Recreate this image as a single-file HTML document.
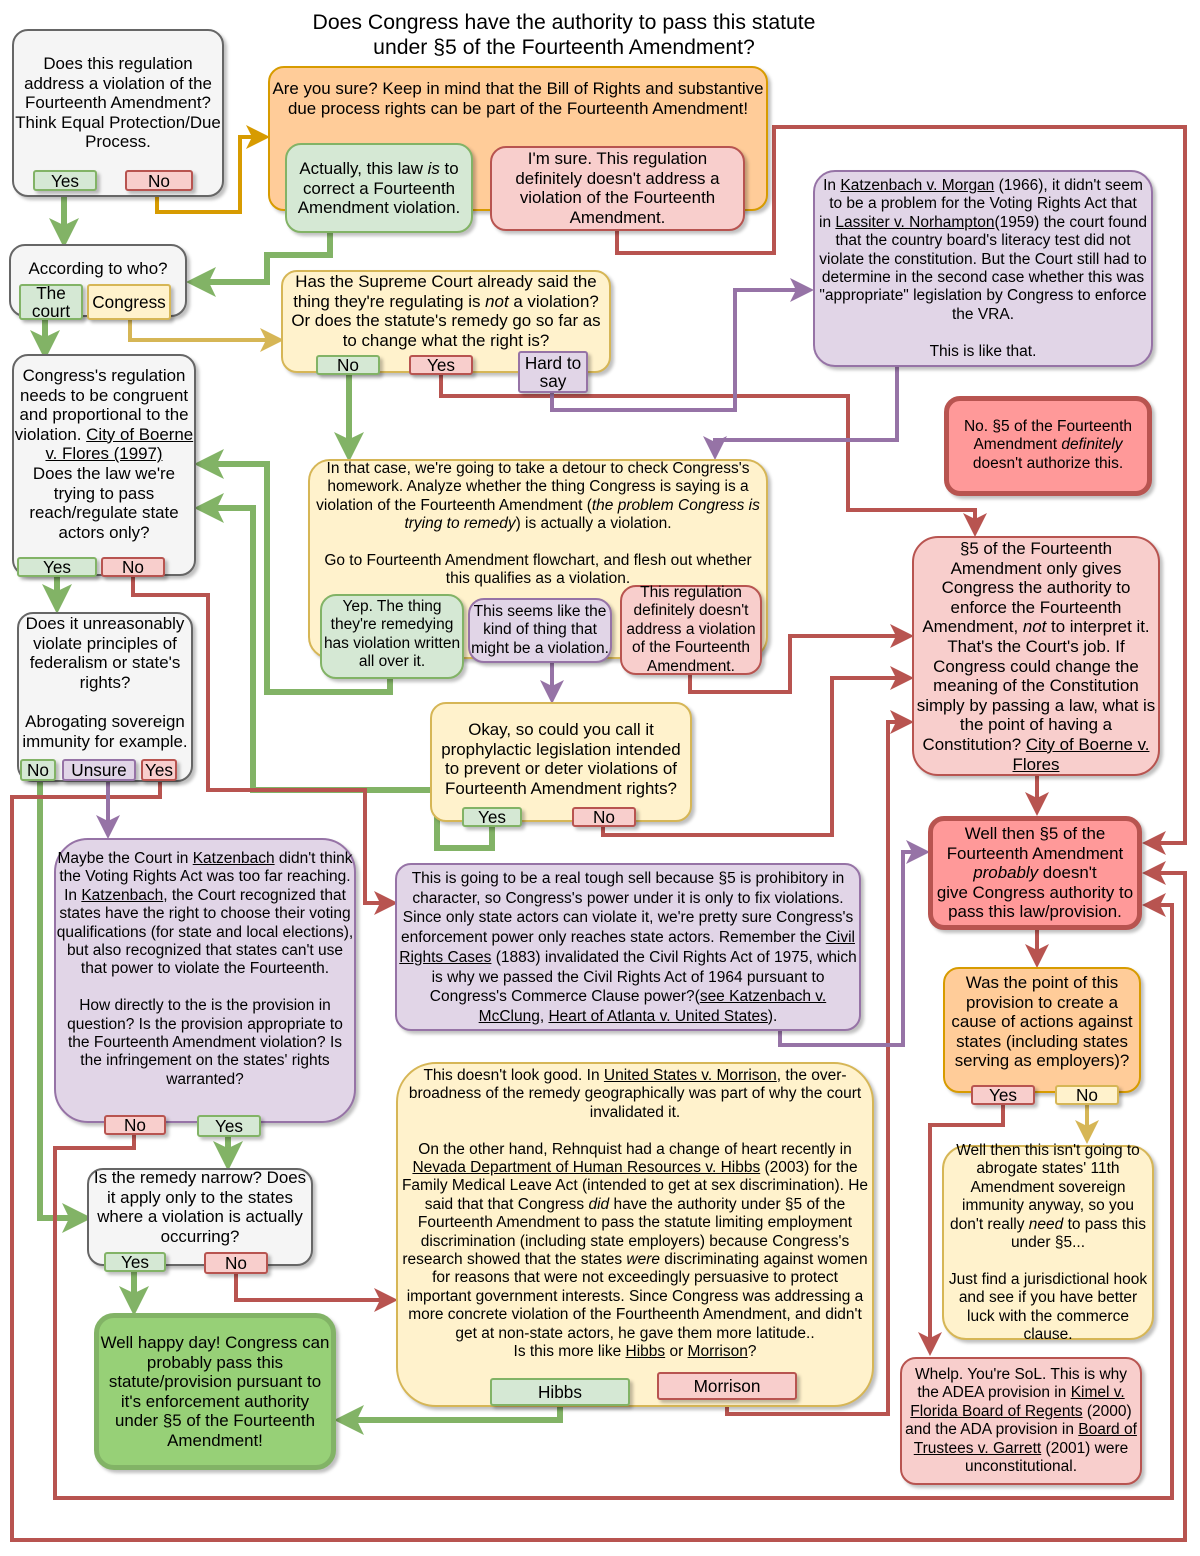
<!DOCTYPE html>
<html><head><meta charset="utf-8">
<style>
body{margin:0;background:#fff;}
#c{position:relative;width:1200px;height:1556px;overflow:hidden;font-family:"Liberation Sans",Arial,sans-serif;color:#000;}
.b{position:absolute;box-sizing:border-box;border:2px solid;border-radius:16px;box-shadow:3px 3px 3px rgba(0,0,0,0.25);}
.t{position:absolute;text-align:center;white-space:nowrap;font-size:16.9px;line-height:19.6px;}
.s{font-size:15.5px;line-height:18.4px;}
.gr{background:#f5f5f5;border-color:#666;}
.or{background:#ffcc99;border-color:#d79b00;}
.gn{background:#d5e8d4;border-color:#82b366;}
.rd{background:#f8cecc;border-color:#b85450;}
.pu{background:#e1d5e7;border-color:#9673a6;}
.ye{background:#fff2cc;border-color:#d6b656;}
.sr{background:#ff9999;border-color:#b85450;border-width:5px;}
.sg{background:#97d077;border-color:#82b366;border-width:5px;}
.btn{border-radius:3px;border-width:2px;display:flex;align-items:center;justify-content:center;font-size:17.2px;line-height:18px;text-align:center;}
u{text-decoration:underline;}
svg{position:absolute;left:0;top:0;}
</style></head><body><div id="c">
<div class="t" style="left:214px;width:700px;top:10px;font-size:21.2px;line-height:25px;">Does Congress have the authority to pass this statute<br>under §5 of the Fourteenth Amendment?</div>

<svg width="1200" height="1556">
<defs>
<marker id="ag" markerWidth="5" markerHeight="5" refX="4" refY="2.5" orient="auto" markerUnits="strokeWidth"><path d="M0,0 L5,2.5 L0,5 L1.2,2.5z" fill="#82b366"/></marker>
<marker id="ar" markerWidth="6" markerHeight="6" refX="5" refY="3" orient="auto" markerUnits="strokeWidth"><path d="M0,0 L6,3 L0,6 L1.5,3z" fill="#b85450"/></marker>
<marker id="ap" markerWidth="6" markerHeight="6" refX="5" refY="3" orient="auto" markerUnits="strokeWidth"><path d="M0,0 L6,3 L0,6 L1.5,3z" fill="#9673a6"/></marker>
<marker id="ay" markerWidth="6" markerHeight="6" refX="5" refY="3" orient="auto" markerUnits="strokeWidth"><path d="M0,0 L6,3 L0,6 L1.5,3z" fill="#d6b656"/></marker>
<marker id="ao" markerWidth="6" markerHeight="6" refX="5" refY="3" orient="auto" markerUnits="strokeWidth"><path d="M0,0 L6,3 L0,6 L1.5,3z" fill="#d79b00"/></marker>
</defs>
<g fill="none" stroke-linejoin="miter">
<g stroke="#82b366" stroke-width="6" marker-end="url(#ag)">
<path d="M64,190 V242"/>
<path d="M330,233 V255 H267 V282 H192"/>
<path d="M45,320 V354"/>
<path d="M349,375 V456"/>
<path d="M57,577 V608"/>
<path d="M390,679 V692 H267 V464 H200"/>
<path d="M492,827 V848 H437 V790 H253 V508 H200"/>
<path d="M40,781 V1218 H86"/>
<path d="M228,1137 V1165"/>
<path d="M134,1272 V1310"/>
<path d="M560,1406 V1420 H340"/>
</g>
<g stroke="#b85450" stroke-width="4" marker-end="url(#ar)">
<path d="M617,231 V253 H774 V127 H1185 V843 H1146"/>
<path d="M441,375 V396 H848 V510 H975 V533"/>
<path d="M690,675 V692 H790 V636 H910"/>
<path d="M603,827 V835 H832 V678 H910"/>
<path d="M727,1400 V1414 H888 V722 H910"/>
<path d="M133,577 V595 H208 V790 H365 V903 H394"/>
<path d="M160,781 V797 H12 V1540 H1185 V873 H1146"/>
<path d="M134,1135 V1148 H55 V1498 H1172 V905 H1146"/>
<path d="M236,1274 V1300 H394"/>
<path d="M1037,776 V812"/>
<path d="M1037,930 V964"/>
<path d="M1003,1105 V1125 H930 V1352"/>
</g>
<g stroke="#9673a6" stroke-width="4" marker-end="url(#ap)">
<path d="M552,393 V410 H735 V290 H810"/>
<path d="M897,367 V440 H715 V456"/>
<path d="M552,663 V700"/>
<path d="M108,781 V835"/>
<path d="M780,1031 V1045 H903 V852 H926"/>
</g>
<g stroke="#d6b656" stroke-width="4" marker-end="url(#ay)">
<path d="M130,320 V340 H280"/>
<path d="M1087,1105 V1140"/>
</g>
<path d="M157,190 V212 H240 V137 H266" stroke="#d79b00" stroke-width="4" marker-end="url(#ao)"/>
</g>
</svg>

<div class="b gr" style="left:12px;top:29px;width:212px;height:168px;"></div>
<div class="t" style="left:12px;width:212px;top:54px;">Does this regulation<br>address a violation of the<br>Fourteenth Amendment?<br>Think Equal Protection/Due<br>Process.</div>
<div class="b gn btn" style="left:33px;top:170px;width:64px;height:21px;">Yes</div>
<div class="b rd btn" style="left:125px;top:170px;width:68px;height:21px;">No</div>

<div class="b or" style="left:268px;top:66px;width:500px;height:145px;"></div>
<div class="t" style="left:268px;width:500px;top:79px;">Are you sure? Keep in mind that the Bill of Rights and substantive<br>due process rights can be part of the Fourteenth Amendment!</div>
<div class="b gn" style="left:285px;top:143px;width:188px;height:90px;"></div>
<div class="t" style="left:285px;width:188px;top:159px;">Actually, this law <i>is</i> to<br>correct a Fourteenth<br>Amendment violation.</div>
<div class="b rd" style="left:490px;top:146px;width:255px;height:85px;"></div>
<div class="t" style="left:490px;width:255px;top:149px;">I'm sure. This regulation<br>definitely doesn't address a<br>violation of the Fourteenth<br>Amendment.</div>

<div class="b gr" style="left:9px;top:244px;width:178px;height:73px;"></div>
<div class="t" style="left:9px;width:178px;top:259px;">According to who?</div>
<div class="b gn btn" style="left:19px;top:284px;width:64px;height:36px;">The<br>court</div>
<div class="b ye btn" style="left:87px;top:284px;width:84px;height:36px;">Congress</div>

<div class="b ye" style="left:281px;top:270px;width:330px;height:103px;"></div>
<div class="t" style="left:281px;width:330px;top:272px;">Has the Supreme Court already said the<br>thing they're regulating is <i>not</i> a violation?<br>Or does the statute's remedy go so far as<br>to change what the right is?</div>
<div class="b gn btn" style="left:316px;top:355px;width:64px;height:20px;">No</div>
<div class="b rd btn" style="left:409px;top:355px;width:64px;height:20px;">Yes</div>
<div class="b pu btn" style="left:518px;top:351px;width:70px;height:42px;">Hard to<br>say</div>

<div class="b pu" style="left:813px;top:170px;width:340px;height:197px;border-radius:22px;"></div>
<div class="t s" style="left:813px;width:340px;top:177px;">In <u>Katzenbach v. Morgan</u> (1966), it didn't seem<br>to be a problem for the Voting Rights Act that<br>in <u>Lassiter v. Norhampton</u>(1959) the court found<br>that the country board's literacy test did not<br>violate the constitution. But the Court still had to<br>determine in the second case whether this was<br>"appropriate" legislation by Congress to enforce<br>the VRA.<br><br>This is like that.</div>

<div class="b gr" style="left:12px;top:354px;width:184px;height:222px;"></div>
<div class="t" style="left:8px;width:192px;top:366px;">Congress's regulation<br>needs to be congruent<br>and proportional to the<br>violation. <u>City of Boerne</u><br><u>v. Flores (1997)</u><br>Does the law we're<br>trying to pass<br>reach/regulate state<br>actors only?</div>
<div class="b gn btn" style="left:17px;top:557px;width:80px;height:20px;">Yes</div>
<div class="b rd btn" style="left:101px;top:557px;width:64px;height:20px;">No</div>

<div class="b sr" style="left:944px;top:396px;width:208px;height:100px;"></div>
<div class="t s" style="left:944px;width:208px;top:418px;">No. §5 of the Fourteenth<br>Amendment <i>definitely</i><br>doesn't authorize this.</div>

<div class="b ye" style="left:308px;top:459px;width:460px;height:200px;border-radius:22px;"></div>
<div class="t s" style="left:308px;width:460px;top:460px;">In that case, we're going to take a detour to check Congress's<br>homework. Analyze whether the thing Congress is saying is a<br>violation of the Fourteenth Amendment (<i>the problem Congress is</i><br><i>trying to remedy</i>) is actually a violation.<br><br>Go to Fourteenth Amendment flowchart, and flesh out whether<br>this qualifies as a violation.</div>
<div class="b gn" style="left:320px;top:594px;width:144px;height:85px;"></div>
<div class="t s" style="left:320px;width:144px;top:598px;">Yep. The thing<br>they're remedying<br>has violation written<br>all over it.</div>
<div class="b pu" style="left:468px;top:598px;width:144px;height:65px;"></div>
<div class="t s" style="left:468px;width:144px;top:603px;">This seems like the<br>kind of thing that<br>might be a violation.</div>
<div class="b rd" style="left:620px;top:585px;width:142px;height:90px;"></div>
<div class="t s" style="left:620px;width:142px;top:584px;">This regulation<br>definitely doesn't<br>address a violation<br>of the Fourteenth<br>Amendment.</div>

<div class="b rd" style="left:912px;top:536px;width:248px;height:240px;border-radius:26px;"></div>
<div class="t" style="left:912px;width:248px;top:539px;">§5 of the Fourteenth<br>Amendment only gives<br>Congress the authority to<br>enforce the Fourteenth<br>Amendment, <i>not</i> to interpret it.<br>That's the Court's job. If<br>Congress could change the<br>meaning of the Constitution<br>simply by passing a law, what is<br>the point of having a<br>Constitution? <u>City of Boerne v.</u><br><u>Flores</u></div>

<div class="b gr" style="left:17px;top:612px;width:176px;height:170px;"></div>
<div class="t" style="left:17px;width:176px;top:614px;">Does it unreasonably<br>violate principles of<br>federalism or state's<br>rights?<br><br>Abrogating sovereign<br>immunity for example.</div>
<div class="b gn btn" style="left:20px;top:759px;width:36px;height:22px;">No</div>
<div class="b pu btn" style="left:62px;top:759px;width:74px;height:22px;">Unsure</div>
<div class="b rd btn" style="left:141px;top:759px;width:36px;height:22px;">Yes</div>

<div class="b ye" style="left:430px;top:702px;width:262px;height:120px;"></div>
<div class="t" style="left:430px;width:262px;top:720px;">Okay, so could you call it<br>prophylactic legislation intended<br>to prevent or deter violations of<br>Fourteenth Amendment rights?</div>
<div class="b gn btn" style="left:462px;top:807px;width:60px;height:20px;">Yes</div>
<div class="b rd btn" style="left:572px;top:807px;width:64px;height:20px;">No</div>

<div class="b sr" style="left:928px;top:816px;width:214px;height:114px;"></div>
<div class="t" style="left:928px;width:214px;top:824px;">Well then §5 of the<br>Fourteenth Amendment<br><i>probably</i> doesn't<br>give Congress authority to<br>pass this law/provision.</div>

<div class="b pu" style="left:54px;top:838px;width:302px;height:285px;border-radius:34px;"></div>
<div class="t s" style="left:54px;width:302px;top:850px;">Maybe the Court in <u>Katzenbach</u> didn't think<br>the Voting Rights Act was too far reaching.<br>In <u>Katzenbach</u>, the Court recognized that<br>states have the right to choose their voting<br>qualifications (for state and local elections),<br>but also recognized that states can't use<br>that power to violate the Fourteenth.<br><br>How directly to the is the provision in<br>question? Is the provision appropriate to<br>the Fourteenth Amendment violation? Is<br>the infringement on the states' rights<br>warranted?</div>
<div class="b rd btn" style="left:104px;top:1115px;width:62px;height:20px;">No</div>
<div class="b gn btn" style="left:197px;top:1115px;width:64px;height:22px;">Yes</div>

<div class="b pu" style="left:395px;top:863px;width:466px;height:168px;"></div>
<div class="t s" style="left:395px;width:466px;top:869px;line-height:19.7px;">This is going to be a real tough sell because §5 is prohibitory in<br>character, so Congress's power under it is only to fix violations.<br>Since only state actors can violate it, we're pretty sure Congress's<br>enforcement power only reaches state actors. Remember the <u>Civil</u><br><u>Rights Cases</u> (1883) invalidated the Civil Rights Act of 1975, which<br>is why we passed the Civil Rights Act of 1964 pursuant to<br>Congress's Commerce Clause power?(<u>see Katzenbach v.</u><br><u>McClung</u>, <u>Heart of Atlanta v. United States</u>).</div>

<div class="b or" style="left:943px;top:967px;width:198px;height:126px;"></div>
<div class="t" style="left:943px;width:198px;top:973px;">Was the point of this<br>provision to create a<br>cause of actions against<br>states (including states<br>serving as employers)?</div>
<div class="b rd btn" style="left:971px;top:1085px;width:64px;height:20px;">Yes</div>
<div class="b ye btn" style="left:1055px;top:1085px;width:64px;height:20px;">No</div>

<div class="b ye" style="left:396px;top:1062px;width:478px;height:345px;border-radius:40px;"></div>
<div class="t s" style="left:396px;width:478px;top:1067px;">This doesn't look good. In <u>United States v. Morrison</u>, the over-<br>broadness of the remedy geographically was part of why the court<br>invalidated it.<br><br>On the other hand, Rehnquist had a change of heart recently in<br><u>Nevada Department of Human Resources v. Hibbs</u> (2003) for the<br>Family Medical Leave Act (intended to get at sex discrimination). He<br>said that that Congress <i>did</i> have the authority under §5 of the<br>Fourteenth Amendment to pass the statute limiting employment<br>discrimination (including state employers) because Congress's<br>research showed that the states <i>were</i> discriminating against women<br>for reasons that were not exceedingly persuasive to protect<br>important government interests. Since Congress was addressing a<br>more concrete violation of the Fourtheenth Amendment, and didn't<br>get at non-state actors, he gave them more latitude..<br>Is this more like <u>Hibbs</u> or <u>Morrison</u>?</div>
<div class="b gn btn" style="left:490px;top:1378px;width:140px;height:28px;">Hibbs</div>
<div class="b rd btn" style="left:657px;top:1372px;width:140px;height:28px;">Morrison</div>

<div class="b gr" style="left:87px;top:1168px;width:226px;height:98px;"></div>
<div class="t" style="left:87px;width:226px;top:1168px;">Is the remedy narrow? Does<br>it apply only to the states<br>where a violation is actually<br>occurring?</div>
<div class="b gn btn" style="left:104px;top:1252px;width:62px;height:20px;">Yes</div>
<div class="b rd btn" style="left:204px;top:1252px;width:64px;height:22px;">No</div>

<div class="b sg" style="left:94px;top:1313px;width:242px;height:157px;border-radius:20px;"></div>
<div class="t" style="left:94px;width:242px;top:1333px;">Well happy day! Congress can<br>probably pass this<br>statute/provision pursuant to<br>it's enforcement authority<br>under §5 of the Fourteenth<br>Amendment!</div>

<div class="b ye" style="left:942px;top:1145px;width:212px;height:195px;border-radius:24px;"></div>
<div class="t s" style="left:942px;width:212px;top:1142px;">Well then this isn't going to<br>abrogate states' 11th<br>Amendment sovereign<br>immunity anyway, so you<br>don't really <i>need</i> to pass this<br>under §5...<br><br>Just find a jurisdictional hook<br>and see if you have better<br>luck with the commerce<br>clause.</div>

<div class="b rd" style="left:900px;top:1357px;width:242px;height:128px;"></div>
<div class="t s" style="left:900px;width:242px;top:1366px;">Whelp. You're SoL. This is why<br>the ADEA provision in <u>Kimel v.</u><br><u>Florida Board of Regents</u> (2000)<br>and the ADA provision in <u>Board of</u><br><u>Trustees v. Garrett</u> (2001) were<br>unconstitutional.</div>
</div></body></html>
